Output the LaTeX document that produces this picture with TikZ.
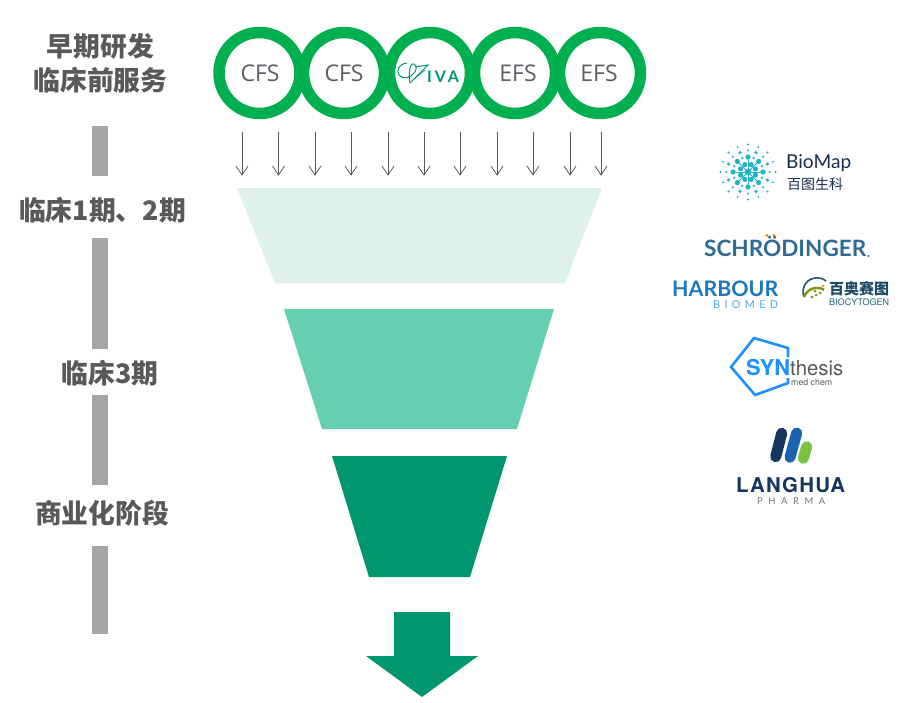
\documentclass[tikz,border=0pt]{standalone}
\usepackage{fontspec}
\usepackage{graphicx}
\setmainfont{Open Sans}
\newfontfamily\cjk{Noto Sans CJK SC}
\newfontfamily\lato{Lato}
\newfontfamily\heros{TeX Gyre Heros}
\usetikzlibrary{arrows.meta}
\definecolor{ringgreen}{HTML}{00B050}
\definecolor{labelgrey}{HTML}{595959}
\definecolor{bargrey}{HTML}{A6A6A6}
\definecolor{funnelA}{HTML}{DFF1EC}
\definecolor{funnelB}{HTML}{66CFB2}
\definecolor{funnelC}{HTML}{009670}
\definecolor{ringtext}{HTML}{5A6068}
\definecolor{teal}{HTML}{1FB3C6}
\definecolor{navy}{HTML}{1B2F4B}
\definecolor{schblue}{HTML}{2E6B96}
\definecolor{harblue}{HTML}{1E78BC}
\definecolor{harlight}{HTML}{48AEDF}
\definecolor{synblue}{HTML}{1E90FF}
\definecolor{langnavy}{HTML}{14365F}
\definecolor{langblue}{HTML}{1B62B0}
\definecolor{langgreen}{HTML}{7CC242}
\newcommand{\fitw}[2]{\resizebox{#1pt}{!}{#2}}
\tikzset{
  x=1pt,y=-1pt,
  stage/.style={font=\cjk\bfseries\fontsize{26.8}{34}\selectfont,text=labelgrey,align=center,inner sep=0pt},
  ring/.style={circle,draw=ringgreen,line width=11.5pt,minimum size=81pt,inner sep=0pt,outer sep=0pt},
  ringlabel/.style={text=ringtext,inner sep=0pt,font=\fontsize{23}{27}\selectfont},
  bar/.style={fill=bargrey,draw=none},
  drop/.style={draw=black!65,line width=0.8pt,-{Straight Barb[length=9pt,width=12pt]}},
  logo/.style={inner sep=0pt,anchor=west},
}
\begin{document}
\begin{tikzpicture}
\useasboundingbox (0,0) rectangle (909,702);
\fill[white] (0,0) rectangle (909,702);
% stage labels
\node[stage] (s0) at (100.5,63) {早期研发\\临床前服务};
\node[stage] (s1) at (102.5,210) {临床1期、2期};
\node[stage] (s2) at (110,373) {临床3期};
\node[stage] (s3) at (102,513.5) {商业化阶段};
% grey bars
\fill[bar] (92,126) rectangle (108,176);
\fill[bar] (92,238) rectangle (108,349);
\fill[bar] (92,395) rectangle (108,485);
\fill[bar] (92,546) rectangle (108,634);
% rings
\node[ring] (r1) at (259.5,73) {};
\node[ring] (r2) at (344,73) {};
\node[ring] (r3) at (430,73) {};
\node[ring] (r4) at (515,73) {};
\node[ring] (r5) at (600,73) {};
\node[ringlabel] (t1) at (260,73.5) {CFS};
\node[ringlabel] (t2) at (344,73.5) {CFS};
\node[ringlabel] (t4) at (518,73.5) {EFS};
\node[ringlabel] (t5) at (599,73.5) {EFS};
% Viva mark
\draw[funnelC,line width=1pt] (407,63) .. controls (399,64) and (396,70) .. (399,75)
  .. controls (402,80) and (411,78) .. (415,72) .. controls (418,67) and (415,63) .. (412,64)
  .. controls (409,66) and (409,76) .. (410,83);
\draw[funnelC,line width=1pt] (410,83) -- (428,65) -- (415,67);
\draw[funnelC,line width=0.6pt] (413,80) -- (425,70);
\node[inner sep=0pt,anchor=west,text=funnelC,font=\lato\bfseries\fontsize{16}{16}\selectfont] (viva) at (427,77) {\addfontfeature{LetterSpace=18}IVA};
% arrows
\foreach \i/\x in {1/242,2/278.5,3/315,4/351,5/388,6/424,7/460,8/497,9/533,10/570,11/601}{
  \coordinate (da\i) at (\x,131.5);
  \coordinate (db\i) at (\x,175.7);
  \draw[drop] (da\i) -- (db\i);
}
% funnel
\fill[funnelA] (237,188) -- (602,188) -- (565,283) -- (275,283) -- cycle;
\fill[funnelB] (284,309) -- (554,309) -- (517,429) -- (322,429) -- cycle;
\fill[funnelC] (332,456) -- (507,456) -- (470,577) -- (369,577) -- cycle;
\fill[funnelC] (394,612) -- (450,612) -- (450,656) -- (478,656) -- (422,697) -- (366,656) -- (394,656) -- cycle;
% BioMap logo
\foreach \a in {0,45,...,315}{
  \draw[teal,line width=1pt] (748,172) -- ++({14*cos(\a)},{14*sin(\a)});
  \fill[teal] (748,172) ++({8*cos(\a+22.5)},{8*sin(\a+22.5)}) circle (2.6);
  \fill[teal] (748,172) ++({15*cos(\a)},{15*sin(\a)}) circle (2.6);
  \fill[teal] (748,172) ++({15*cos(\a+22.5)},{15*sin(\a+22.5)}) circle (1.3);
  \fill[teal] (748,172) ++({21*cos(\a+22.5)},{21*sin(\a+22.5)}) circle (1.8);
  \fill[teal] (748,172) ++({21.5*cos(\a)},{21.5*sin(\a)}) circle (1.2);
  \fill[teal] (748,172) ++({27.5*cos(\a)},{27.5*sin(\a)}) circle (1.2);
  \fill[teal] (748,172) ++({27*cos(\a+22.5)},{27*sin(\a+22.5)}) circle (1.1);
}
\fill[teal] (748,172) circle (3.2);
\node[logo,text=navy] (bm) at (786,163) {\fitw{65}{\lato BioMap}};
\node[logo,text=navy] (bmc) at (787,184) {\fitw{56}{\cjk 百图生科}};
% Schrodinger
\node[logo,text=schblue] (sch) at (704,246) {\fitw{162}{\lato\bfseries SCHRÖDINGER}};
\fill[schblue] (868.5,256) circle (1.2);
\fill[orange!80!brown] (767,235.5) circle (1.6) (774,235.5) circle (1.6);
% Harbour
\node[logo,text=harblue] (hb) at (672,288.5) {\fitw{106}{\lato\bfseries HARBOUR}};
\node[logo,text=harlight] (hbb) at (713,305) {\fitw{65}{\lato\addfontfeature{LetterSpace=40}BIOMED}};
% Biocytogen
\draw[navy!70!teal,line width=1.6pt] (826,281) arc (-50:-200:14);
\draw[olive!70!green,line width=2.4pt] (804,297) arc (200:300:14);
\foreach \p in {(812,297),(816,295),(820,293),(815,291),(820,288)}{\fill[olive!70!green] \p circle (1.5);}
\fill[orange] (823,286) circle (1.3);
\node[logo,text=navy!80!teal] (bc) at (829,289) {\fitw{60}{\cjk\bfseries 百奥赛图}};
\node[logo,text=navy!60!teal] (bcs) at (829,302) {\fitw{60}{\heros BIOCYTOGEN}};
% Synthesis
\draw[synblue,line width=2.6pt,line join=miter] (788,357) -- (788,348) -- (754,338) -- (731,367) -- (755,395) -- (788,383) -- (788,378);
\node[logo,text=synblue] (syn) at (746,367.5) {\fitw{44}{\heros\bfseries SYN}};
\node[logo,text=labelgrey] (syt) at (790,368) {\resizebox{53pt}{15pt}{\heros thesis}};
\node[logo,text=labelgrey] (sym) at (791,382.5) {\fitw{41}{\heros med chem}};
% Langhua
\draw[langnavy,line width=11pt,line cap=round] (781.7,433.3) -- (775.7,456.7);
\draw[langblue,line width=11pt,line cap=round] (796.7,433) -- (790,457.3);
\draw[langgreen,line width=11pt,line cap=round] (806.7,446.7) -- (803.3,458.3);
\node[logo,text=langnavy] (lh) at (736,485) {\fitw{109}{\heros\bfseries\addfontfeature{LetterSpace=6}LANGHUA}};
\node[logo,text=black!55] (lp) at (757,501) {\fitw{68}{\lato\addfontfeature{LetterSpace=60}PHARMA}};
\end{tikzpicture}
\end{document}
